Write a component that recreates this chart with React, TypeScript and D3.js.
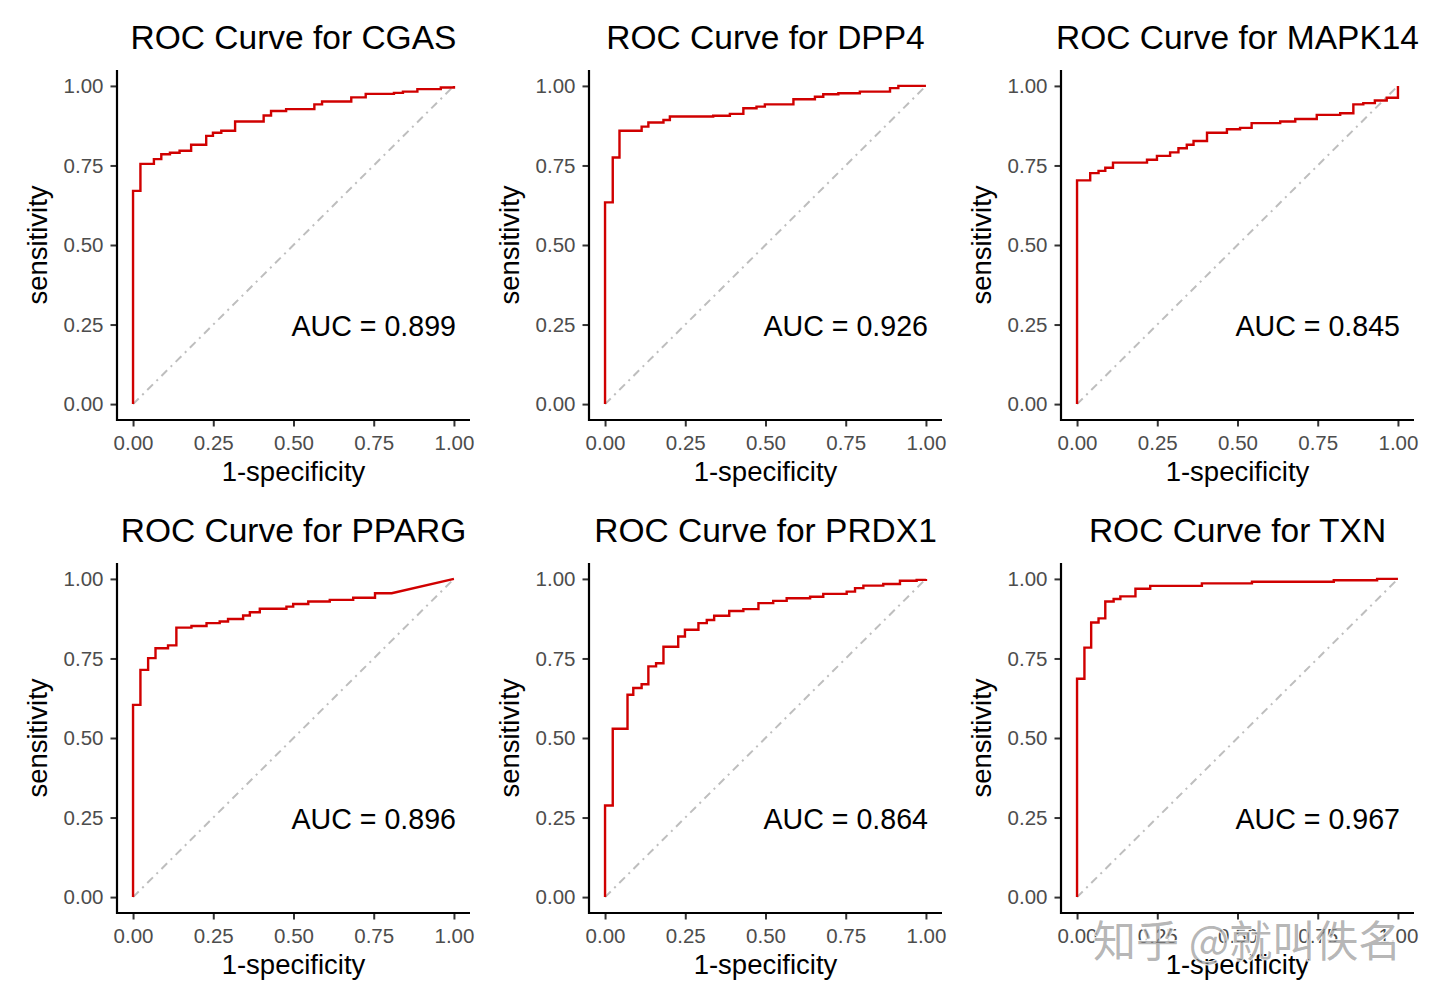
import React, { useEffect, useRef } from 'react';
import * as d3 from 'd3';

type Pt = [number, number];

// step corners: [1-specificity, sensitivity after the jump]
const cgas: Pt[] = [[0, 0], [0, 0.670], [0.023, 0.755], [0.065, 0.770], [0.088, 0.785], [0.115, 0.790], [0.145, 0.796], [0.181, 0.815], [0.228, 0.843], [0.249, 0.853], [0.275, 0.859], [0.318, 0.888], [0.407, 0.907], [0.430, 0.921], [0.477, 0.927], [0.565, 0.942], [0.589, 0.951], [0.680, 0.964], [0.725, 0.975], [0.813, 0.978], [0.841, 0.982], [0.886, 0.990], [0.959, 0.995], [1, 1]];
const dpp4: Pt[] = [[0, 0], [0, 0.634], [0.024, 0.775], [0.045, 0.859], [0.114, 0.872], [0.135, 0.885], [0.182, 0.893], [0.202, 0.904], [0.337, 0.906], [0.389, 0.912], [0.431, 0.930], [0.472, 0.935], [0.498, 0.942], [0.587, 0.958], [0.654, 0.966], [0.680, 0.974], [0.727, 0.977], [0.794, 0.982], [0.888, 0.993], [0.914, 1], [1, 1]];
const mapk14: Pt[] = [[0, 0], [0, 0.703], [0.041, 0.726], [0.067, 0.733], [0.088, 0.743], [0.112, 0.759], [0.218, 0.768], [0.249, 0.780], [0.290, 0.791], [0.316, 0.804], [0.342, 0.815], [0.363, 0.827], [0.405, 0.853], [0.467, 0.864], [0.508, 0.868], [0.544, 0.883], [0.633, 0.888], [0.680, 0.896], [0.747, 0.909], [0.820, 0.914], [0.861, 0.942], [0.892, 0.946], [0.928, 0.954], [0.965, 0.963], [1, 1]];
const pparg: Pt[] = [[0, 0], [0, 0.604], [0.023, 0.714], [0.047, 0.751], [0.070, 0.782], [0.109, 0.791], [0.135, 0.847], [0.182, 0.852], [0.229, 0.861], [0.270, 0.866], [0.296, 0.874], [0.343, 0.885], [0.364, 0.895], [0.395, 0.906], [0.478, 0.913], [0.499, 0.921], [0.546, 0.929], [0.613, 0.934], [0.686, 0.941], [0.754, 0.955], [0.806, 0.955]];
const ppargTail: Pt[] = [[0.806, 0.955], [1, 1]];
const prdx1: Pt[] = [[0, 0], [0, 0.288], [0.024, 0.529], [0.070, 0.636], [0.088, 0.657], [0.114, 0.669], [0.135, 0.725], [0.159, 0.735], [0.182, 0.787], [0.228, 0.819], [0.249, 0.840], [0.291, 0.861], [0.317, 0.871], [0.340, 0.884], [0.387, 0.899], [0.431, 0.905], [0.478, 0.924], [0.524, 0.931], [0.566, 0.939], [0.639, 0.944], [0.680, 0.953], [0.753, 0.960], [0.779, 0.971], [0.805, 0.979], [0.867, 0.984], [0.919, 0.994], [0.971, 0.997], [1, 1]];
const txn: Pt[] = [[0, 0], [0, 0.686], [0.023, 0.784], [0.044, 0.863], [0.067, 0.876], [0.088, 0.929], [0.114, 0.937], [0.135, 0.945], [0.182, 0.969], [0.228, 0.978], [0.389, 0.986], [0.545, 0.991], [0.800, 0.996], [0.935, 1], [1, 1]];

const genes = ['CGAS', 'DPP4', 'MAPK14', 'PPARG', 'PRDX1', 'TXN'];
const aucs = ['0.899', '0.926', '0.845', '0.896', '0.864', '0.967'];
const curves: Pt[][] = [cgas, dpp4, mapk14, pparg, prdx1, txn];
const tails: (Pt[] | null)[] = [null, null, null, ppargTail, null, null];
const ticks = [0, 0.25, 0.5, 0.75, 1];

const FONT = '"Liberation Sans", Arial, sans-serif';

const App: React.FC = () => {
  const ref = useRef<SVGSVGElement>(null);

  useEffect(() => {
    if (!ref.current) return;
    const svg = d3.select(ref.current);
    svg.selectAll('*').remove();

    const pw = 353, ph = 350;
    const colLeft = [117, 589, 1061];
    const rowTop = [70, 563];

    genes.forEach((gene, i) => {
      const left = colLeft[i % 3];
      const top = rowTop[Math.floor(i / 3)];
      const g = svg.append('g').attr('transform', `translate(${left},${top})`);

      const x = d3.scaleLinear().domain([-0.05, 1.05]).range([0, pw]);
      const y = d3.scaleLinear().domain([-0.05, 1.05]).range([ph, 0]);

      // diagonal reference
      g.append('line')
        .attr('x1', x(0)).attr('y1', y(0))
        .attr('x2', x(1)).attr('y2', y(1))
        .attr('stroke', '#BEBEBE')
        .attr('stroke-width', 2)
        .attr('stroke-dasharray', '8 5 2 5');

      const step = d3.line<Pt>().x(d => x(d[0])).y(d => y(d[1])).curve(d3.curveStepAfter);
      const lin = d3.line<Pt>().x(d => x(d[0])).y(d => y(d[1]));
      let d = step(curves[i]) as string;
      const tail = tails[i];
      if (tail) d += (lin(tail) as string).replace(/^M/, 'L');
      g.append('path')
        .attr('d', d)
        .attr('fill', 'none')
        .attr('stroke', '#D00000')
        .attr('stroke-width', 2.4)
        .attr('stroke-linejoin', 'miter');

      // axes
      const xAxis = g.append('g').attr('transform', `translate(0,${ph})`)
        .call(d3.axisBottom(x).tickValues(ticks).tickFormat(d3.format('.2f')).tickSize(6.5).tickPadding(9).tickSizeOuter(0));
      const yAxis = g.append('g')
        .call(d3.axisLeft(y).tickValues(ticks).tickFormat(d3.format('.2f')).tickSize(6.5).tickPadding(7).tickSizeOuter(0));
      [xAxis, yAxis].forEach(a => {
        a.select('.domain').remove();
        a.selectAll('line').attr('stroke', '#333333').attr('stroke-width', 2);
        a.selectAll('text').attr('fill', '#4D4D4D').attr('font-size', 20.5).attr('font-family', FONT);
      });
      g.append('line').attr('x1', 0).attr('x2', pw).attr('y1', ph).attr('y2', ph)
        .attr('stroke', '#000').attr('stroke-width', 2.2);
      g.append('line').attr('x1', 0).attr('x2', 0).attr('y1', 0).attr('y2', ph + 1)
        .attr('stroke', '#000').attr('stroke-width', 2.2);

      // texts
      g.append('text')
        .attr('x', pw / 2).attr('y', -21)
        .attr('text-anchor', 'middle')
        .attr('font-family', FONT).attr('font-size', 33.5)
        .text(`ROC Curve for ${gene}`);
      g.append('text')
        .attr('x', pw / 2).attr('y', ph + 61)
        .attr('text-anchor', 'middle')
        .attr('font-family', FONT).attr('font-size', 27.5)
        .text('1-specificity');
      g.append('text')
        .attr('transform', `translate(-70,${ph / 2}) rotate(-90)`)
        .attr('text-anchor', 'middle')
        .attr('font-family', FONT).attr('font-size', 27.5)
        .text('sensitivity');
      g.append('text')
        .attr('x', x(1) + 2).attr('y', y(0.215))
        .attr('text-anchor', 'end')
        .attr('font-family', FONT).attr('font-size', 28.6)
        .text(`AUC = ${aucs[i]}`);
    });

    // watermark
    svg.append('text')
      .attr('x', 1093).attr('y', 957)
      .attr('font-family', '"Noto Sans CJK SC", sans-serif')
      .attr('font-size', 43)
      .attr('fill', '#8c8c8c')
      .attr('fill-opacity', 0.65)
      .attr('stroke', '#ffffff')
      .attr('stroke-width', 1.5)
      .attr('paint-order', 'stroke')
      .text('知乎 @就叫佚名');
  }, []);

  return (
    <svg
      ref={ref}
      width={1440}
      height={1000}
      style={{ position: 'absolute', left: 0, top: 0, background: '#fff' }}
    />
  );
};

export default App;
